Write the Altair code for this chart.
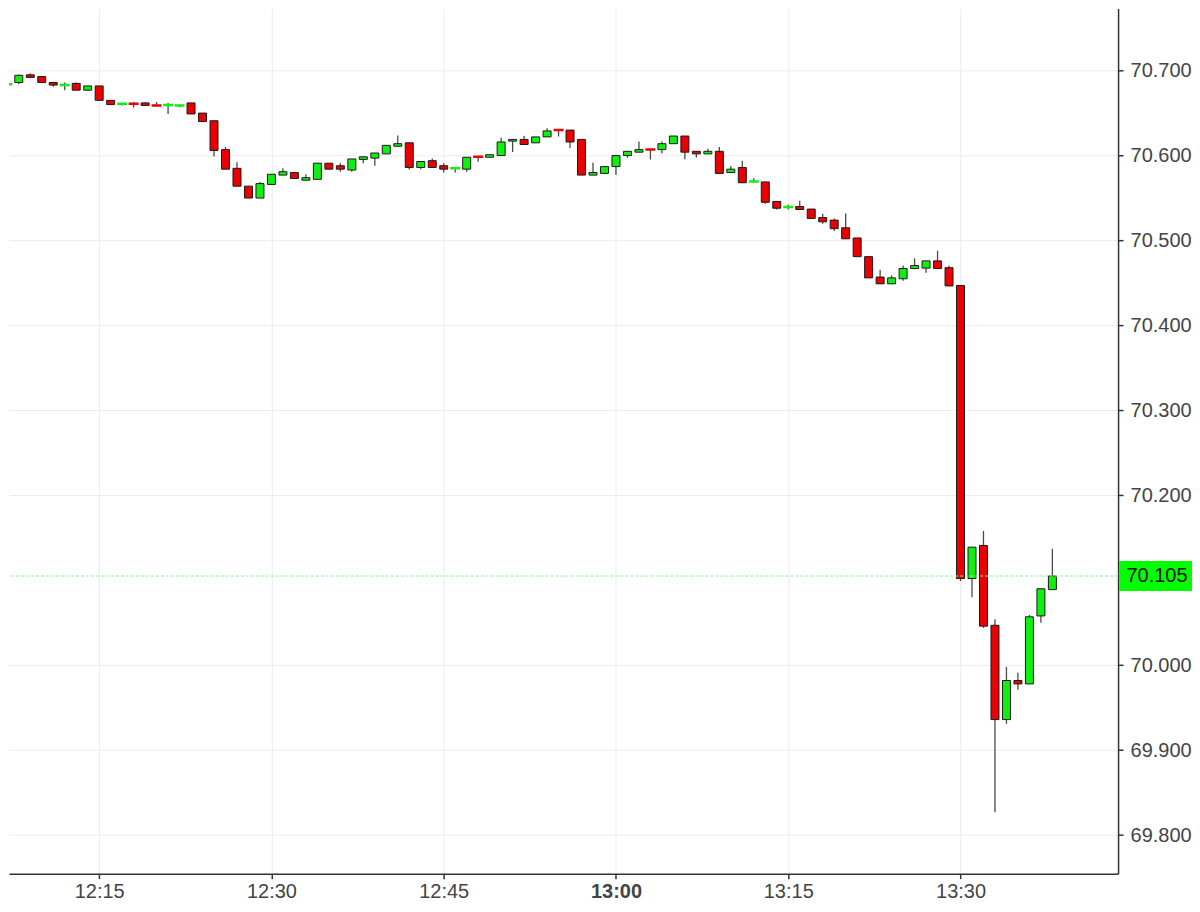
import altair as alt
import pandas as pd

# ---- data (1-minute candles, 12:07 .. 13:38) ----
start_time = "2024-01-02 12:07"
open_ = [70.6835, 70.686, 70.695, 70.693, 70.686, 70.6825, 70.685, 70.677, 70.682, 70.665,
         70.6605, 70.6615, 70.662, 70.6595, 70.659, 70.6585, 70.662, 70.650, 70.641, 70.607,
         70.585, 70.564, 70.550, 70.566, 70.577, 70.580, 70.571, 70.572, 70.591, 70.588,
         70.583, 70.5955, 70.597, 70.602, 70.611, 70.615, 70.586, 70.594, 70.588, 70.5845,
         70.584, 70.599, 70.598, 70.600, 70.617, 70.619, 70.615, 70.622, 70.6305, 70.630,
         70.619, 70.577, 70.579, 70.587, 70.600, 70.604, 70.6075, 70.607, 70.614, 70.623,
         70.605, 70.602, 70.605, 70.580, 70.586, 70.569, 70.569, 70.546, 70.539, 70.540,
         70.537, 70.527, 70.524, 70.515, 70.503, 70.481, 70.457, 70.449, 70.455, 70.467,
         70.4675, 70.476, 70.468, 70.447, 70.102, 70.141, 70.047, 69.936, 69.982, 69.978,
         70.058, 70.089]
high = [70.6855, 70.6955, 70.697, 70.693, 70.686, 70.686, 70.686, 70.682, 70.682, 70.665,
        70.662, 70.663, 70.6625, 70.663, 70.662, 70.660, 70.662, 70.650, 70.641, 70.610,
        70.592, 70.564, 70.569, 70.578, 70.585, 70.580, 70.578, 70.591, 70.591, 70.591,
        70.596, 70.5985, 70.603, 70.612, 70.6236, 70.615, 70.593, 70.5965, 70.591, 70.5855,
        70.598, 70.599, 70.601, 70.621, 70.619, 70.6229, 70.622, 70.6322, 70.6305, 70.630,
        70.619, 70.5915, 70.587, 70.600, 70.605, 70.6166, 70.6075, 70.6166, 70.623, 70.623,
        70.605, 70.6081, 70.6101, 70.5876, 70.5938, 70.5733, 70.569, 70.546, 70.5422, 70.5469,
        70.537, 70.5314, 70.5259, 70.5317, 70.503, 70.481, 70.4655, 70.459, 70.4706, 70.479,
        70.476, 70.488, 70.4706, 70.447, 70.139, 70.158, 70.054, 69.998, 69.991, 70.059,
        70.090, 70.137]
low = [70.6825, 70.684, 70.692, 70.686, 70.681, 70.677, 70.677, 70.677, 70.665, 70.660,
       70.659, 70.6566, 70.659, 70.659, 70.649, 70.657, 70.649, 70.640, 70.599, 70.584,
       70.564, 70.550, 70.550, 70.566, 70.577, 70.573, 70.571, 70.572, 70.584, 70.581,
       70.581, 70.591, 70.588, 70.602, 70.611, 70.5837, 70.584, 70.586, 70.580, 70.580,
       70.581, 70.5927, 70.598, 70.600, 70.6043, 70.613, 70.615, 70.622, 70.6224, 70.609,
       70.577, 70.577, 70.579, 70.5771, 70.5973, 70.604, 70.5953, 70.6023, 70.614, 70.5957,
       70.5977, 70.602, 70.579, 70.580, 70.568, 70.568, 70.5434, 70.5364, 70.5364, 70.5365,
       70.526, 70.5198, 70.5113, 70.502, 70.481, 70.456, 70.449, 70.449, 70.4527, 70.467,
       70.462, 70.467, 70.4465, 70.099, 70.080, 70.044, 69.827, 69.931, 69.971, 69.978,
       70.050, 70.089]
close = [70.684, 70.6945, 70.692, 70.686, 70.683, 70.683, 70.677, 70.682, 70.665, 70.660,
         70.661, 70.661, 70.659, 70.659, 70.6595, 70.659, 70.649, 70.640, 70.606, 70.584,
         70.564, 70.550, 70.567, 70.578, 70.581, 70.573, 70.574, 70.591, 70.584, 70.584,
         70.596, 70.5985, 70.603, 70.612, 70.614, 70.586, 70.593, 70.586, 70.584, 70.585,
         70.598, 70.5985, 70.601, 70.616, 70.619, 70.613, 70.622, 70.629, 70.630, 70.616,
         70.577, 70.580, 70.587, 70.600, 70.605, 70.607, 70.607, 70.614, 70.623, 70.604,
         70.602, 70.605, 70.579, 70.584, 70.568, 70.5695, 70.545, 70.538, 70.5395, 70.5365,
         70.526, 70.522, 70.514, 70.502, 70.481, 70.456, 70.449, 70.456, 70.467, 70.4705,
         70.476, 70.467, 70.4465, 70.102, 70.139, 70.046, 69.936, 69.982, 69.978, 70.057,
         70.090, 70.105]
last_price = [70.105]
time_ticks = ["12:15", "12:30", "12:45", "13:00", "13:15", "13:30"]
price_ticks = [69.8, 69.9, 70.0, 70.2, 70.3, 70.4, 70.5, 70.6, 70.7]
grid_prices = [69.8, 69.9, 70.0, 70.1, 70.2, 70.3, 70.4, 70.5, 70.6, 70.7]

GREEN = "#10f010"
RED = "#ea0000"
FONT = "Liberation Sans"

times = pd.date_range(start_time, periods=len(open_), freq="min")
df = pd.DataFrame({"t": times, "o": open_, "h": high, "l": low, "c": close})
lp = pd.DataFrame({"p": last_price})


def dt(hh, mm, ss=0):
    return alt.DateTime(year=2024, month=1, date=2, hours=hh, minutes=mm, seconds=ss)


x_scale = alt.Scale(domain=[dt(12, 7, 35), dt(13, 43, 17)], nice=False)
y_scale = alt.Scale(domain=[69.7605, 70.7674], nice=False, zero=False)

x_axis = alt.Axis(
    values=[dt(int(s[:2]), int(s[3:])) for s in time_ticks],
    format="%H:%M", title=None, orient="bottom",
    labelFont=FONT, labelFontSize=20, labelColor="#444",
    labelFontWeight=alt.expr("(hours(datum.value) == 13 && minutes(datum.value) == 0) ? 'bold' : 'normal'"),
    tickSize=5, tickColor="#333", tickWidth=1.5,
    domainColor="#333", domainWidth=1.5,
    grid=True, gridColor="#ececec", gridWidth=1,
    labelPadding=3, labelFlush=False, labelOverlap=False,
)
y_axis = alt.Axis(
    values=price_ticks, format=".3f", title=None, orient="right",
    labelFont=FONT, labelFontSize=20, labelColor="#444",
    tickSize=5, tickColor="#333", tickWidth=1.5,
    domainColor="#333", domainWidth=1.5,
    grid=True, gridColor="#ececec", gridWidth=1,
    labelPadding=7, labelFlush=False, labelOverlap=False,
)

color_enc = alt.Color("dir:N", scale=alt.Scale(domain=["up", "down"], range=[GREEN, RED]), legend=None)

base = alt.Chart(df).encode(x=alt.X("t:T", scale=x_scale, axis=x_axis))

wicks = base.mark_rule(color="#4a4a4a", strokeWidth=1.3, clip=True).encode(
    y=alt.Y("l:Q", scale=y_scale, axis=y_axis), y2="h:Q"
)

bodies = base.transform_filter("abs(datum.c - datum.o) >= 0.0008").transform_calculate(
    dir="datum.c > datum.o ? 'up' : 'down'"
).mark_bar(size=8, stroke="#1a1a1a", strokeWidth=1, clip=True).encode(
    y=alt.Y("o:Q", scale=y_scale), y2="c:Q", color=color_enc
)

dojis = base.transform_filter("abs(datum.c - datum.o) < 0.0008").transform_calculate(
    dir="datum.c > datum.o ? 'up' : 'down'"
).mark_tick(orient="horizontal", size=10, thickness=2.5, clip=True, opacity=1).encode(
    y=alt.Y("c:Q", scale=y_scale), color=color_enc
)

price_line = alt.Chart(lp).mark_rule(color="#80ff80", strokeWidth=1, strokeDash=[3, 2]).encode(
    y=alt.Y("p:Q", scale=y_scale)
)

price_box = alt.Chart(lp).mark_bar(orient="horizontal", size=30, color="#00ff00", clip=False).encode(
    x=alt.value(1111), x2=alt.value(1184), y=alt.Y("p:Q", scale=y_scale)
)

price_text = alt.Chart(lp).mark_text(
    align="center", baseline="middle", font=FONT, fontSize=20, color="#111", clip=False
).encode(
    x=alt.value(1149), y=alt.Y("p:Q", scale=y_scale), text=alt.Text("p:Q", format=".3f")
)

chart = alt.layer(wicks, bodies, dojis, price_line, price_box, price_text).properties(
    width=1110, height=866, padding=0, background="white"
).configure_view(strokeWidth=0)

chart.save("out.html", embed_options={"renderer": "svg", "actions": False})
